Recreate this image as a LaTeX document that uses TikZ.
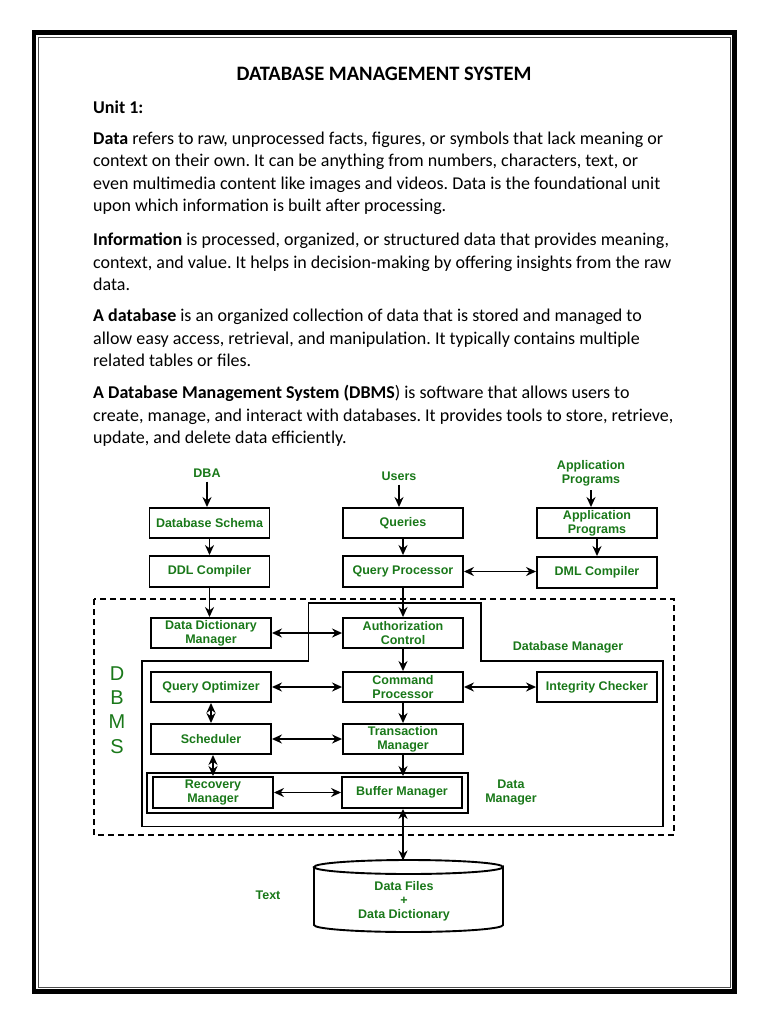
\documentclass[tikz,border=0pt]{standalone}
\usepackage{fontspec}
\setmainfont{Carlito}
\newfontfamily\arialf{Liberation Sans}
\usetikzlibrary{arrows.meta}
\definecolor{dgreen}{RGB}{25,120,25}
\frenchspacing
\begin{document}
\begin{tikzpicture}[x=1pt,y=-1pt,
  bodyline/.style={anchor=base west,inner sep=0pt,font=\fontsize{18}{21}\selectfont},
  lbl/.style={text=dgreen,font=\arialf\bfseries\fontsize{12.5}{14}\selectfont,align=center,inner sep=4pt},
  box/.style={draw,line width=1.9pt,minimum width=120pt,minimum height=30pt,inner sep=0pt,align=center,text=dgreen,font=\arialf\bfseries\fontsize{12.5}{14}\selectfont},
  arr/.style={line width=1.7pt,-{Stealth[length=10pt,width=9pt]}},
  darr/.style={line width=1.7pt,{Stealth[length=10pt,width=9pt]}-{Stealth[length=10pt,width=9pt]}},
  solidline/.style={line width=1.9pt}
]
\useasboundingbox (0,0) rectangle (768,1024);
% page border
\draw[line width=4.5pt] (34,32.5) rectangle (734.5,991.5);
\draw[line width=0.8pt,black!70] (38.5,37) rectangle (730.5,987.5);

% text
\node[anchor=base,inner sep=0pt,font=\bfseries\fontsize{20.5}{24}\selectfont] (title) at (384,80.5) {DATABASE MANAGEMENT SYSTEM};
\node[bodyline,font=\bfseries\fontsize{18}{21}\selectfont] (unit) at (93,113.5) {Unit 1:};
\node[bodyline] (p1a) at (93,144.5) {\textbf{Data} refers to raw, unprocessed facts, figures, or symbols that lack meaning or};
\node[bodyline] (p1b) at (93,167) {context on their own. It can be anything from numbers, characters, text, or};
\node[bodyline] (p1c) at (93,189.5) {even multimedia content like images and videos. Data is the foundational unit};
\node[bodyline] (p1d) at (93,212) {upon which information is built after processing.};
\node[bodyline] (p2a) at (93,245.5) {\textbf{Information} is processed, organized, or structured data that provides meaning,};
\node[bodyline] (p2b) at (93,268) {context, and value. It helps in decision-making by offering insights from the raw};
\node[bodyline] (p2c) at (93,290.5) {data.};
\node[bodyline] (p3a) at (93,321.5) {\textbf{A database} is an organized collection of data that is stored and managed to};
\node[bodyline] (p3b) at (93,344) {allow easy access, retrieval, and manipulation. It typically contains multiple};
\node[bodyline] (p3c) at (93,366.5) {related tables or files.};
\node[bodyline] (p4a) at (93,398.5) {\textbf{A Database Management System (DBMS}) is software that allows users to};
\node[bodyline] (p4b) at (93,421) {create, manage, and interact with databases. It provides tools to store, retrieve,};
\node[bodyline] (p4c) at (93,443.5) {update, and delete data efficiently.};

% DBMS dashed box and database manager outline
\draw[solidline,dashed,dash pattern=on 6pt off 4pt] (94,599) rectangle (674,835);
\draw[solidline] (142,661) -- (308.5,661) -- (308.5,603) -- (481,603) -- (481,661) -- (663,661) -- (663,826.5) -- (142,826.5) -- cycle;
\draw[solidline] (147,773) rectangle (468,813);

% top labels
\node[lbl] (dba) at (207,473) {DBA};
\node[lbl] (users) at (399,476) {Users};
\node[lbl] (apl) at (591,473) {Application\\Programs};

% boxes
\node[box] (schema) at (209.5,523) {Database Schema};
\node[box,minimum height=31pt] (ddl) at (209.5,571.5) {DDL Compiler};
\node[box] (queries) at (403,523) {Queries};
\node[box,minimum height=31pt] (qp) at (403,571.5) {Query Processor};
\node[box] (appbox) at (597,523) {Application\\Programs};
\node[box,minimum height=31pt] (dml) at (597,572.5) {DML Compiler};
\node[box] (ddm) at (211,633) {Data Dictionary\\Manager};
\node[box] (auth) at (403,633) {Authorization\\Control};
\node[box] (qo) at (211,687) {Query Optimizer};
\node[box] (cp) at (403,687) {Command\\Processor};
\node[box] (ic) at (597,687) {Integrity Checker};
\node[box] (sched) at (211,739) {Scheduler};
\node[box] (tm) at (403,739) {Transaction\\Manager};
\node[box,minimum height=31pt] (rm) at (213,792.5) {Recovery\\Manager};
\node[box,minimum height=31pt] (bm) at (402,792.5) {Buffer Manager};

% side labels
\node[lbl] (dbmgr) at (568,647) {Database Manager};
\node[lbl] (datamgr) at (511,793) {Data\\Manager};
\node[text=dgreen,font=\arialf\fontsize{20}{24.4}\selectfont,align=center,inner sep=0pt] (dbms) at (117,710) {D\\B\\M\\S};
\node[lbl] (textlbl) at (268,895) {Text};

% cylinder
\draw[solidline,fill=white] (314,867) -- (314,925) arc[start angle=180,end angle=0,x radius=94.5,y radius=7] -- (503,867) arc[start angle=0,end angle=360,x radius=94.5,y radius=7];
\coordinate (cyltop) at (403,860.5);
\node[lbl,inner sep=0pt] (cyltext) at (404,901) {Data Files\\+\\Data Dictionary};

% arrows
\draw[arr] (dba) -- (dba |- schema.north);
\draw[arr] (schema) -- (ddl);
\draw[arr] (users) -- (users |- queries.north);
\draw[arr] (queries) -- (qp);
\draw[arr] (apl) -- (apl |- appbox.north);
\draw[arr] (appbox) -- (dml);
\draw[darr] (qp.east) -- (qp.east -| dml.west);
\draw[arr] (ddl.south) -- (ddl.south |- ddm.north);
\draw[arr] (qp) -- (auth);
\draw[darr] (ddm) -- (auth);
\draw[arr] (auth) -- (cp);
\draw[darr] (qo) -- (cp);
\draw[darr] (cp) -- (ic);
\draw[darr] (qo) -- (sched);
\draw[arr] (cp) -- (tm);
\draw[darr] (sched) -- (tm);
\draw[darr] (sched.south -| rm.north) -- (rm.north);
\draw[arr] (tm.south) -- (tm.south |- bm.north);
\draw[darr] (rm) -- (bm);
\draw[darr] (bm.south -| cyltop) -- (cyltop);
\end{tikzpicture}
\end{document}
